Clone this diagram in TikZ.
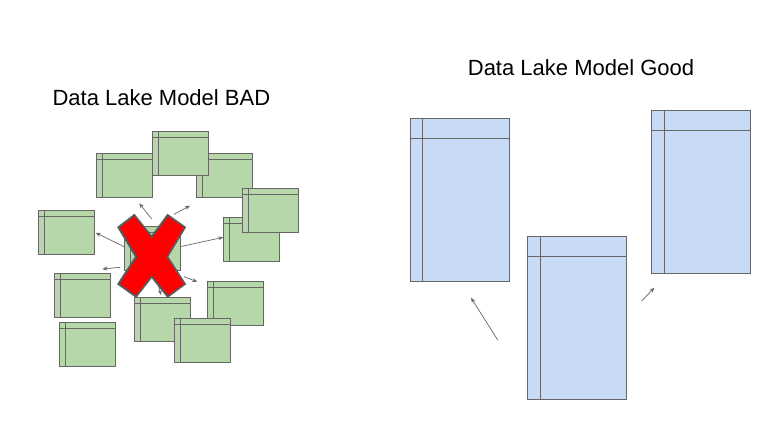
\documentclass[tikz,border=0pt]{standalone}
\usepackage{fontspec}
\setmainfont{Liberation Sans}
\usetikzlibrary{arrows.meta}
\definecolor{linegray}{HTML}{666666}
\definecolor{gfill}{HTML}{B6D7A8}
\definecolor{bfill}{HTML}{C9DAF8}
\definecolor{xgray}{HTML}{5A5A5A}
\definecolor{xred}{HTML}{FF0000}
\tikzset{
  gbox/.style={draw=linegray, fill=gfill, line width=0.8pt, minimum width=56pt, minimum height=44pt,
    inner sep=0pt, outer sep=0pt, anchor=north west,
    path picture={
      \draw[linegray, line width=0.8pt] ([yshift=-6pt]path picture bounding box.north west) -- ([yshift=-6pt]path picture bounding box.north east);
      \draw[linegray, line width=0.8pt] ([xshift=6.5pt]path picture bounding box.north west) -- ([xshift=6.5pt]path picture bounding box.south west);
    }},
  bbox/.style={draw=linegray, fill=bfill, line width=0.8pt, minimum width=99pt, minimum height=163pt,
    inner sep=0pt, outer sep=0pt, anchor=north west,
    path picture={
      \draw[linegray, line width=0.8pt] ([yshift=-20pt]path picture bounding box.north west) -- ([yshift=-20pt]path picture bounding box.north east);
      \draw[linegray, line width=0.8pt] ([xshift=12.5pt]path picture bounding box.north west) -- ([xshift=12.5pt]path picture bounding box.south west);
    }},
  conn/.style={draw=linegray, line width=0.7pt, -{Stealth[length=5pt,width=4pt]}},
  title/.style={font=\fontsize{22}{26}\selectfont, text=black, anchor=base, inner sep=0pt}
}
\begin{document}
\begin{tikzpicture}[x=1pt,y=-1pt]
\useasboundingbox (0,0) rectangle (768,432);
\fill[white] (0,0) rectangle (768,432);
% titles
\node[title] (tbad) at (161.4,105) {Data Lake Model BAD};
\node[title] (tgood) at (581,75.5) {Data Lake Model Good};
% green boxes
\node[gbox] (g1) at (96,153) {};
\node[gbox] (g3) at (196,153) {};
\node[gbox] (g2) at (152,131) {};
\node[gbox] (g5) at (223,217) {};
\node[gbox] (g4) at (242,188) {};
\node[gbox] (g6) at (38,210) {};
\node[gbox] (g8) at (54,273) {};
\node[gbox] (g9) at (59,322) {};
\node[gbox] (g10) at (134,297) {};
\node[gbox] (g11) at (207,281) {};
\node[gbox] (g12) at (174,318) {};
\node[gbox] (g7) at (124,226) {};
% arrow coordinates
\coordinate (s1) at (151.7,219); \coordinate (e1) at (139.3,203.3);
\coordinate (s2) at (174,214.3); \coordinate (e2) at (190,205.7);
\coordinate (s3) at (124,246.7); \coordinate (e3) at (95.7,232.7);
\coordinate (s4) at (180,246.7); \coordinate (e4) at (223.3,237.3);
\coordinate (s5) at (120,267.3); \coordinate (e5) at (102.3,269);
\coordinate (s6) at (184,276.7); \coordinate (e6) at (197.3,281.7);
\coordinate (s7) at (158,284); \coordinate (e7) at (161,295);
\foreach \i in {1,...,7} { \draw[conn] (s\i) -- (e\i); }
% red X
\filldraw[fill=xred, draw=xgray, line width=1.8pt, line join=miter]
  (118.3,227.3) -- (134.3,215) -- (151.7,236.7) -- (167.7,215) -- (185,227.3)
  -- (167.3,256.7) -- (185,284) -- (167.7,296.7) -- (151.7,276.7) -- (136,296.7)
  -- (118.3,284) -- (136,256.7) -- cycle;
% blue boxes
\node[bbox] (b1) at (410,118.3) {};
\node[bbox] (b2) at (527.7,236.7) {};
\node[bbox] (b3) at (651.7,110.7) {};
\coordinate (bs1) at (497.7,340); \coordinate (be1) at (471,297.7);
\coordinate (bs2) at (641.7,301); \coordinate (be2) at (654.3,287.7);
\draw[conn] (bs1) -- (be1);
\draw[conn] (bs2) -- (be2);
\end{tikzpicture}
\end{document}
